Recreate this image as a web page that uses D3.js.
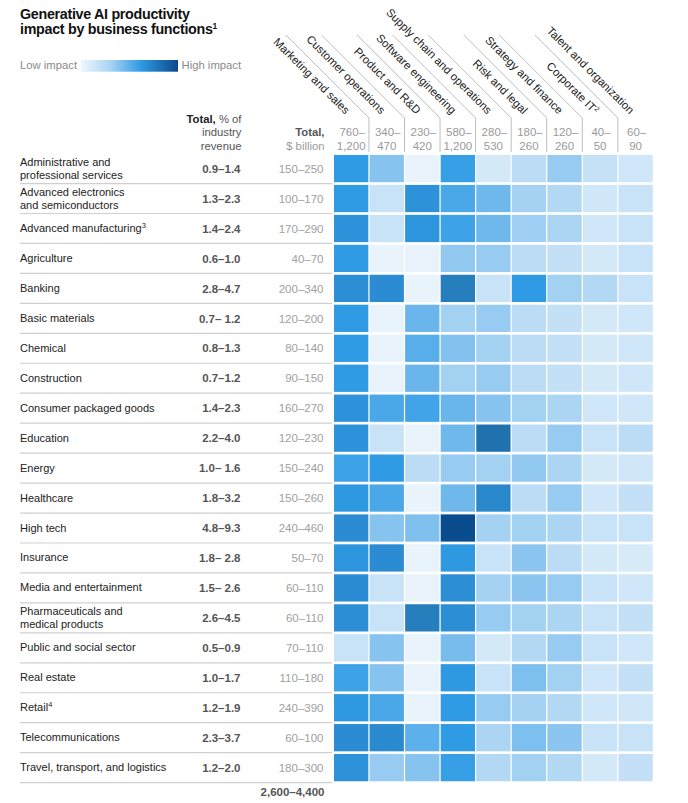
<!DOCTYPE html>
<html>
<head>
<meta charset="utf-8">
<script src="https://cdn.jsdelivr.net/npm/d3@7"></script>
<style>
  html, body { margin: 0; padding: 0; background: #fff; }
  svg { display: block; font-family: "Liberation Sans", Arial, sans-serif; }
</style>
</head>
<body>
<svg id="chart" width="688" height="803"></svg>
<script>
// ---------- DATA ----------
const industries = [
  "Administrative and professional services",
  "Advanced electronics and semiconductors",
  "Advanced manufacturing",
  "Agriculture",
  "Banking",
  "Basic materials",
  "Chemical",
  "Construction",
  "Consumer packaged goods",
  "Education",
  "Energy",
  "Healthcare",
  "High tech",
  "Insurance",
  "Media and entertainment",
  "Pharmaceuticals and medical products",
  "Public and social sector",
  "Real estate",
  "Retail",
  "Telecommunications",
  "Travel, transport, and logistics"
];
const industryLines = [
  ["Administrative and", "professional services"],
  ["Advanced electronics", "and semiconductors"],
  ["Advanced manufacturing|3"],
  ["Agriculture"],
  ["Banking"],
  ["Basic materials"],
  ["Chemical"],
  ["Construction"],
  ["Consumer packaged goods"],
  ["Education"],
  ["Energy"],
  ["Healthcare"],
  ["High tech"],
  ["Insurance"],
  ["Media and entertainment"],
  ["Pharmaceuticals and", "medical products"],
  ["Public and social sector"],
  ["Real estate"],
  ["Retail|4"],
  ["Telecommunications"],
  ["Travel, transport, and logistics"]
];
const revenuePct = ["0.9–1.4","1.3–2.3","1.4–2.4","0.6–1.0","2.8–4.7","0.7– 1.2","0.8–1.3","0.7–1.2",
  "1.4–2.3","2.2–4.0","1.0– 1.6","1.8–3.2","4.8–9.3","1.8– 2.8","1.5– 2.6","2.6–4.5","0.5–0.9",
  "1.0–1.7","1.2–1.9","2.3–3.7","1.2–2.0"];
const totalBillion = ["150–250","100–170","170–290","40–70","200–340","120–200","80–140","90–150",
  "160–270","120–230","150–240","150–260","240–460","50–70","60–110","60–110","70–110",
  "110–180","240–390","60–100","180–300"];
const grandTotal = "2,600–4,400";

const functions = ["Marketing and sales","Customer operations","Product and R&D","Software engineering",
  "Supply chain and operations","Risk and legal","Strategy and finance","Corporate IT|2","Talent and organization"];
const functionLow = ["760–","340–","230–","580–","280–","180–","120–","40–","60–"];
const functionHigh = ["1,200","470","420","1,200","530","260","260","50","90"];

// impact score (0 = low, 100 = high), one row per industry, one column per function
const impact = [
  [75, 47,  5, 72, 15, 27, 40, 22, 17], // Administrative
  [75, 20, 78, 65, 55, 35, 30, 17, 20], // Adv electronics
  [78, 20, 77, 70, 55, 37, 33, 17, 20], // Adv manufacturing
  [75,  5,  5, 43, 40, 27, 23, 15, 20], // Agriculture
  [79, 80,  5, 86, 20, 75, 36, 30, 20], // Banking
  [75,  5, 56, 36, 40, 27, 23, 15, 17], // Basic materials
  [75,  5, 61, 48, 36, 27, 23, 15, 17], // Chemical
  [75,  5, 56, 36, 40, 27, 23, 15, 17], // Construction
  [78, 65, 68, 56, 47, 36, 33, 17, 17], // CPG
  [78, 20,  5, 55, 90, 27, 40, 20, 27], // Education
  [70, 75, 27, 40, 36, 43, 33, 15, 17], // Energy
  [76, 65,  5, 55, 82, 27, 40, 17, 23], // Healthcare
  [80, 47, 49,100, 35, 36, 33, 20, 20], // High tech
  [77, 80,  5, 76, 20, 45, 27, 15, 14], // Insurance
  [80, 20,  5, 79, 35, 45, 40, 20, 17], // Media
  [79, 20, 86, 79, 40, 36, 33, 20, 23], // Pharma
  [20, 47,  5, 52, 15, 30, 40, 20, 17], // Public
  [70, 47,  5, 76, 20, 50, 36, 17, 23], // Real estate
  [76, 65,  5, 75, 40, 35, 30, 17, 17], // Retail
  [80, 81, 60, 75, 33, 50, 45, 20, 20], // Telecom
  [78, 40, 47, 72, 30, 36, 30, 15, 23]  // Travel
];

const colorDomain = [0, 5, 15, 20, 27, 35, 40, 47, 55, 65, 75, 80, 88, 100];
const colorRange = ["#eef6fd","#e8f3fb","#d4e9f8","#c8e3f7","#bcdcf5","#a5d2f2","#97cbf1","#86c3ef",
  "#6eb8ec","#4aa8e9","#2f9be4","#2b8cd3","#2479b5","#0a4d8f"];

// ---------- DRAW ----------
const svg = d3.select("#chart");
const color = d3.scaleLinear().domain(colorDomain).range(colorRange).interpolate(d3.interpolateRgb);

const x = d3.scaleBand().domain(d3.range(functions.length)).range([333.4, 653.4])
  .paddingInner(0.035).paddingOuter(0.0175);
const y = d3.scaleBand().domain(industries).range([153.6, 782.6])
  .paddingInner(0.09).paddingOuter(0.045);

function addSup(sel, str, supSize) {
  const parts = str.split("|");
  sel.append("tspan").text(parts[0]);
  if (parts[1]) sel.append("tspan").attr("dy", -4).attr("font-size", supSize).text(parts[1]);
}

// Title
const title = svg.append("text").attr("x", 20).attr("y", 19)
  .attr("font-size", 14.3).attr("font-weight", "bold").attr("fill", "#111").attr("letter-spacing", -0.3);
title.append("tspan").attr("x", 20).text("Generative AI productivity");
title.append("tspan").attr("x", 20).attr("dy", 14.5).text("impact by business functions");
title.append("tspan").attr("dy", -5).attr("font-size", 8.5).text("1");

// Legend
svg.append("text").attr("x", 20).attr("y", 69).attr("font-size", 11.3).attr("fill", "#8a8a8a").text("Low impact");
const defs = svg.append("defs");
const grad = defs.append("linearGradient").attr("id", "lg");
[[0, "#f0f7fd"], [0.3, "#a9d4f4"], [0.62, "#2f9ae4"], [1, "#0a498b"]].forEach(s =>
  grad.append("stop").attr("offset", s[0]).attr("stop-color", s[1]));
svg.append("rect").attr("x", 81).attr("y", 60).attr("width", 97).attr("height", 11.7).attr("fill", "url(#lg)");
svg.append("text").attr("x", 181.5).attr("y", 69).attr("font-size", 11.3).attr("fill", "#8a8a8a").text("High impact");

// Column header: diagonal lines
const boundaries = d3.range(1, functions.length).map(i => x(i) - x.step() * x.paddingInner() / 2);
svg.append("g").selectAll("path").data(boundaries).join("path")
  .attr("d", b => `M${b - 83},35 L${b},118 L${b},152`)
  .attr("fill", "none").attr("stroke", "#bdbdbd").attr("stroke-width", 1);

// Column header: rotated labels
svg.append("g").selectAll("text").data(functions).join("text")
  .attr("transform", (d, i) => `translate(${x(i) + x.bandwidth() + 1},118) rotate(45)`)
  .attr("x", -19.5).attr("y", 15)
  .attr("text-anchor", "end").attr("font-size", 11.4).attr("fill", "#222")
  .each(function(d) { addSup(d3.select(this), d, 7); });

// Column header: ranges
const hdr = svg.append("g").attr("font-size", 11.5).attr("fill", "#9a9a9a").attr("text-anchor", "middle");
hdr.selectAll("text.lo").data(functionLow).join("text").attr("class", "lo")
  .attr("x", (d, i) => x(i) + x.bandwidth() / 2 + 1).attr("y", 136).text(d => d);
hdr.selectAll("text.hi").data(functionHigh).join("text").attr("class", "hi")
  .attr("x", (d, i) => x(i) + x.bandwidth() / 2).attr("y", 149.5).text(d => d);

// Left headers
const h1 = svg.append("text").attr("text-anchor", "end").attr("font-size", 11.3).attr("fill", "#555");
h1.append("tspan").attr("x", 241.5).attr("y", 122.5).attr("font-weight", "bold").attr("fill", "#222").text("Total,");
h1.append("tspan").text(" % of");
svg.append("text").attr("text-anchor", "end").attr("font-size", 11.3).attr("fill", "#555")
  .attr("x", 241.5).attr("y", 136).text("industry");
svg.append("text").attr("text-anchor", "end").attr("font-size", 11.3).attr("fill", "#555")
  .attr("x", 241.5).attr("y", 149.5).text("revenue");
svg.append("text").attr("text-anchor", "end").attr("font-size", 11.3).attr("font-weight", "bold").attr("fill", "#555")
  .attr("x", 324.5).attr("y", 136).text("Total,");
svg.append("text").attr("text-anchor", "end").attr("font-size", 11.3).attr("fill", "#9a9a9a")
  .attr("x", 324.5).attr("y", 149.5).text("$ billion");

// Row separators
const sepStep = y.step() * y.paddingInner() / 2;
svg.append("g").selectAll("line").data(industries).join("line")
  .attr("x1", 20).attr("x2", 332)
  .attr("y1", d => y(d) + y.bandwidth() + sepStep).attr("y2", d => y(d) + y.bandwidth() + sepStep)
  .attr("stroke", "#d0d0d0").attr("stroke-width", 1.2);

// Row labels
const rows = svg.append("g").selectAll("g").data(industries).join("g")
  .attr("transform", d => `translate(0,${y(d) + y.bandwidth() / 2})`);
rows.each(function(d, i) {
  const g = d3.select(this);
  const lines = industryLines[i];
  const t = g.append("text").attr("font-size", 11).attr("fill", "#222");
  lines.forEach((ln, k) => {
    const off = lines.length === 1 ? 3.5 : (k === 0 ? -3 : 10);
    const ts = t.append("tspan").attr("x", 20).attr("y", off);
    const parts = ln.split("|");
    ts.text(parts[0]);
    if (parts[1]) t.append("tspan").attr("dy", -4).attr("font-size", 7.5).text(parts[1]);
  });
  g.append("text").attr("x", 240.5).attr("y", 4.2).attr("text-anchor", "end")
    .attr("font-size", 11.5).attr("font-weight", "bold").attr("fill", "#555").text(revenuePct[i]);
  g.append("text").attr("x", 323.5).attr("y", 4.2).attr("text-anchor", "end")
    .attr("font-size", 11.5).attr("fill", "#a0a0a0").text(totalBillion[i]);
});

// Grand total
svg.append("text").attr("x", 324.5).attr("y", 796).attr("text-anchor", "end")
  .attr("font-size", 11.5).attr("font-weight", "bold").attr("fill", "#555").text(grandTotal);

// Heatmap cells
const cells = [];
impact.forEach((row, r) => row.forEach((v, c) => cells.push({ r, c, v })));
svg.append("g").selectAll("rect").data(cells).join("rect")
  .attr("x", d => x(d.c)).attr("y", d => y(industries[d.r]))
  .attr("width", x.bandwidth()).attr("height", y.bandwidth())
  .attr("fill", d => color(d.v));
</script>
</body>
</html>
